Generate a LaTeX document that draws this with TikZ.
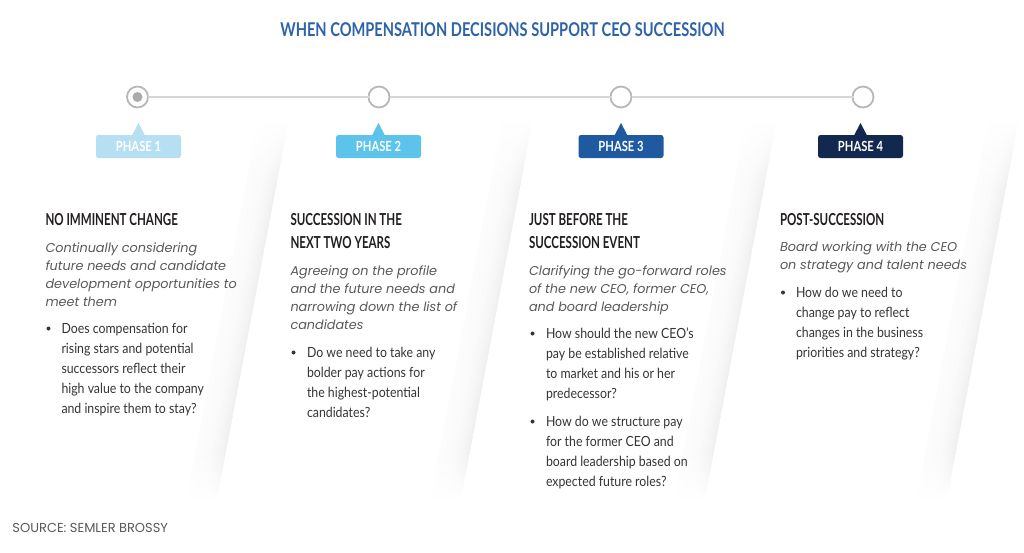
\documentclass[tikz,border=0pt]{standalone}
\usepackage{fontspec}
\usetikzlibrary{fadings}
\setmainfont{Lato}
\newfontfamily\titlef[FakeStretch=0.77]{Lato}
\newfontfamily\condf[FakeStretch=0.70]{Lato}
\newfontfamily\phasef[FakeStretch=0.8]{Lato}
\newfontfamily\bodyf[FakeStretch=0.88]{Lato}
\newfontfamily\itf{Poppins}
\newfontfamily\srcf{Poppins}
\definecolor{titleblue}{HTML}{2E62A9}
\definecolor{ph1}{HTML}{B6DFF4}
\definecolor{ph2}{HTML}{5CC3EB}
\definecolor{ph3}{HTML}{1F5AA0}
\definecolor{ph4}{HTML}{13284F}
\definecolor{headc}{HTML}{231F20}
\definecolor{itc}{HTML}{58595B}
\definecolor{bodyc}{HTML}{353535}
\definecolor{circc}{HTML}{B8B8B8}
\definecolor{linec}{HTML}{D6D6D6}
\definecolor{dotc}{HTML}{ABABAB}
\definecolor{srcc}{HTML}{5A5A5A}
\begin{document}
\begin{tikzpicture}[x=1pt,y=-1pt,
  every node/.style={inner sep=0pt, outer sep=0pt},
  txt/.style={anchor=base west},
  ttlx/.style={anchor=base, font=\titlef\bfseries\fontsize{19}{22}\selectfont, text=titleblue},
  hdx/.style={txt, font=\condf\bfseries\fontsize{16.5}{20}\selectfont, text=headc},
  itx/.style={txt, font=\itf\itshape\fontsize{12.8}{15}\selectfont, text=itc},
  bodyx/.style={txt, font=\bodyf\fontsize{14}{17}\selectfont, text=bodyc},
  bul/.style={circle, fill=bodyc, minimum size=4pt},
  circ/.style={circle, draw=circc, line width=1.8pt, fill=white, minimum size=21pt},
  tlx/.style={draw=linec, line width=1.8pt},
  phasebox/.style={rounded corners=2.5pt, minimum width=85pt, minimum height=23pt, font=\phasef\bfseries\fontsize{14}{16}\selectfont, text=white},
  srcx/.style={txt, font=\srcf\fontsize{13}{15}\selectfont, text=srcc}
]
\useasboundingbox (0,0) rectangle (1024,552);
\fill[white] (0,0) rectangle (1024,552);

% slanted panel shadows
\foreach \b in {217,461,705,947}{
  \foreach \w/\c in {30/1,24/1.5,18/2,13/2.8,9/3.5,6/4.2,3.5/5,1.5/6}
    \fill[black!\c] (\b,497) -- (\b+71,122) -- (\b+71-\w,122) -- (\b-\w,497) -- cycle;
}
\fill[white, path fading=south] (0,121) rectangle (1024,190);
\fill[white, path fading=north] (0,450) rectangle (1024,498);

% title
\node[ttlx] (title) at (502.5,36) {WHEN COMPENSATION DECISIONS SUPPORT CEO SUCCESSION};

% timeline
\node[circ] (c1) at (137.5,97) {};
\node[circ] (c2) at (379,97) {};
\node[circ] (c3) at (621,97) {};
\node[circ] (c4) at (863,97) {};
\draw[tlx] (c1) -- (c2);
\draw[tlx] (c2) -- (c3);
\draw[tlx] (c3) -- (c4);
\node[circle, fill=dotc, minimum size=10pt] (d1) at (c1) {};

% phase labels
\foreach \i/\x in {1/138.5,2/378.5,3/621,4/860.5}{
  \node[phasebox, fill=ph\i] (p\i) at (\x,146.5) {PHASE \i};
  \fill[ph\i] ([xshift=-6.5pt,yshift=-0.5pt]p\i.north) -- ([yshift=12pt]p\i.north) -- ([xshift=6.5pt,yshift=-0.5pt]p\i.north) -- cycle;
}

% column 1
\node[hdx] (h1a) at (45.5,225) {NO IMMINENT CHANGE};
\foreach \t [count=\k] in {Continually considering, future needs and candidate, development opportunities to, meet them}
  \node[itx] (i1-\k) at (45.5,252+18*\k-18) {\t};
\node[bul] (b1) at (48.5,328.5) {};
\foreach \t [count=\k] in {Does compensation for, rising stars and potential, successors reflect their, high value to the company, and inspire them to stay?}
  \node[bodyx] (t1-\k) at (61.5,333+20*\k-20) {\t};

% column 2
\node[hdx] (h2a) at (290.5,225) {SUCCESSION IN THE};
\node[hdx] (h2b) at (290.5,248) {NEXT TWO YEARS};
\foreach \t [count=\k] in {Agreeing on the profile, and the future needs and, narrowing down the list of, candidates}
  \node[itx] (i2-\k) at (290.5,275+18*\k-18) {\t};
\node[bul] (b2) at (293.5,352.5) {};
\foreach \t [count=\k] in {Do we need to take any, bolder pay actions for, the highest-potential, candidates?}
  \node[bodyx] (t2-\k) at (307,357+20*\k-20) {\t};

% column 3
\node[hdx] (h3a) at (529,225) {JUST BEFORE THE};
\node[hdx] (h3b) at (529,248) {SUCCESSION EVENT};
\foreach \t [count=\k] in {Clarifying the go-forward roles, {of the new CEO, former CEO,}, and board leadership}
  \node[itx] (i3-\k) at (529,275+18*\k-18) {\t};
\node[bul] (b3a) at (532.5,333.5) {};
\foreach \t [count=\k] in {How should the new CEO’s, pay be established relative, to market and his or her, predecessor?}
  \node[bodyx] (t3a-\k) at (546,338+20*\k-20) {\t};
\node[bul] (b3b) at (532.5,421.5) {};
\foreach \t [count=\k] in {How do we structure pay, for the former CEO and, board leadership based on, expected future roles?}
  \node[bodyx] (t3b-\k) at (546,426+20*\k-20) {\t};

% column 4
\node[hdx] (h4a) at (780,225) {POST-SUCCESSION};
\foreach \t [count=\k] in {Board working with the CEO, on strategy and talent needs}
  \node[itx] (i4-\k) at (780,251+18*\k-18) {\t};
\node[bul] (b4) at (783,292.5) {};
\foreach \t [count=\k] in {How do we need to, change pay to reflect, changes in the business, priorities and strategy?}
  \node[bodyx] (t4-\k) at (796,297+20*\k-20) {\t};

% source
\node[srcx] (src) at (12.5,532) {SOURCE: SEMLER BROSSY};
\end{tikzpicture}
\end{document}
